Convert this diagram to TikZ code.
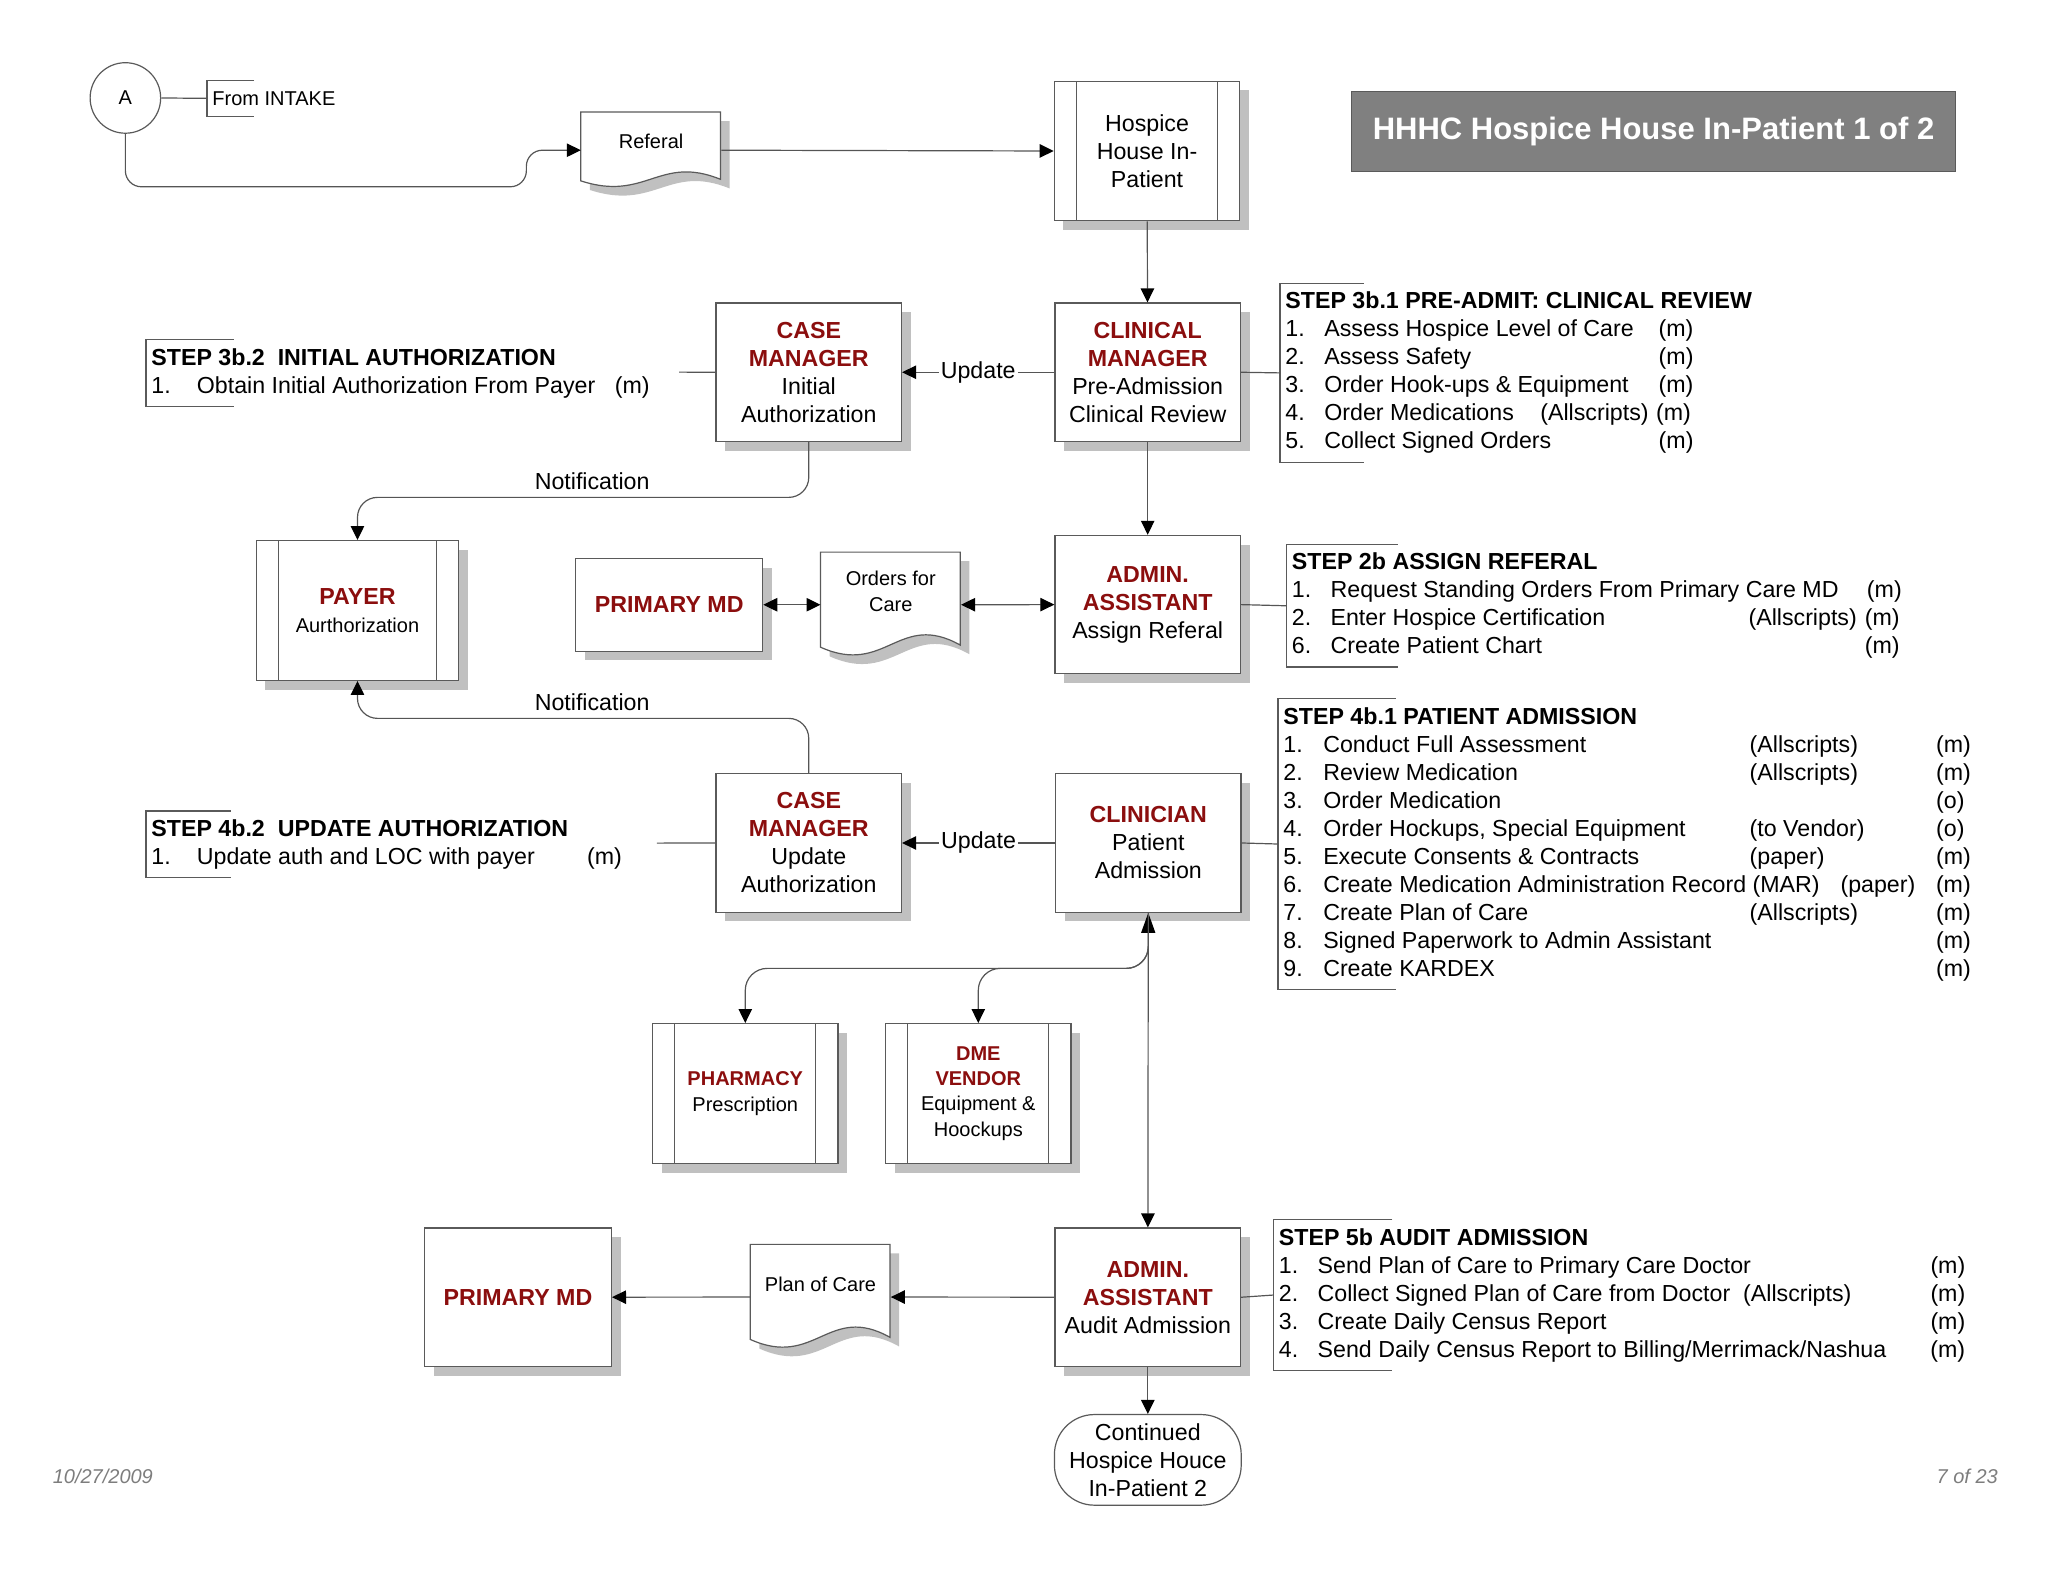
\documentclass[tikz,border=0pt]{standalone}
\usepackage{fontspec}
\setmainfont{Liberation Sans}
\usetikzlibrary{positioning,arrows.meta,shadows,backgrounds}
\definecolor{rolered}{RGB}{139,14,14}
\definecolor{shadowgray}{RGB}{192,192,192}
\definecolor{linegray}{RGB}{85,85,85}
\definecolor{boxgray}{RGB}{90,90,90}
\definecolor{titlegray}{RGB}{128,128,128}
\definecolor{footgray}{RGB}{125,125,125}
\newlength{\pxu}
\setlength{\pxu}{0.653pt}
\newcommand{\bodyfont}{\fontsize{11.6}{14}\selectfont}
\newcommand{\docfont}{\fontsize{10}{13}\selectfont}
\newcommand{\smallboxfont}{\fontsize{10}{12.6}\selectfont}
\newcommand{\titlefont}{\fontsize{15.5}{18}\selectfont\bfseries}
\newcommand{\rolename}[1]{\textbf{\textcolor{rolered}{#1}}}
\newcommand{\colcell}[2]{\makebox[#1\pxu][l]{#2}}
\newcommand{\notebracket}[2]{\draw[boxline] ([xshift=#2\pxu]#1.north west) -- (#1.north west) -- (#1.south west) -- ([xshift=#2\pxu]#1.south west);}
\newcommand{\docoutline}[2]{%
  \begin{scope}[on background layer, shift={(#1.north west)}]
    \fill[shadowgray] (7,7) -- (114,7) -- (114,{7+0.89*#2}) .. controls (67,{7+0.56*#2}) and (57,{7+1.19*#2}) .. (7,{7+0.91*#2}) -- cycle;
    \draw[boxline, fill=white] (0,0) -- (107,0) -- (107,{0.89*#2}) .. controls (60,{0.56*#2}) and (50,{1.19*#2}) .. (0,{0.91*#2}) -- cycle;
  \end{scope}}
\tikzset{
  boxline/.style={draw=boxgray, line width=0.6pt},
  link/.style={draw=linegray, line width=0.6pt},
  flow/.style={link, ->},
  twoway/.style={link, <->},
  procbox/.style={boxline, fill=white, minimum width=142\pxu, minimum height=106\pxu, align=center, inner sep=1pt,
    drop shadow={shadow xshift=7\pxu, shadow yshift=-7\pxu, fill=shadowgray, opacity=1}},
  subproc/.style={procbox, path picture={
    \draw[boxline] ([xshift=17\pxu]path picture bounding box.north west) -- ([xshift=17\pxu]path picture bounding box.south west)
      ([xshift=-17\pxu]path picture bounding box.north east) -- ([xshift=-17\pxu]path picture bounding box.south east);}},
  docbox/.style={minimum width=107\pxu, minimum height=80\pxu, inner sep=0pt, align=center, font=\docfont, text depth=13pt},
  termbox/.style={boxline, fill=white, rounded corners=20pt, minimum width=143\pxu, minimum height=69.4\pxu, align=center, inner sep=1pt},
  titlebox/.style={draw=boxgray, fill=titlegray, text=white, font=\titlefont, minimum width=462\pxu, minimum height=61\pxu},
  notebox/.style={anchor=west, align=left, inner xsep=2.5pt, inner ysep=4pt},
  flowlabel/.style={fill=white, inner sep=1pt},
  notelabel/.style={above, inner sep=3.6pt},
  footer/.style={font=\docfont\itshape, text=footgray}
}
\begin{document}
\begin{tikzpicture}[x=0.653pt, y=-0.653pt, >={Triangle[length=7pt,width=6.7pt,color=black]}, every node/.style={font=\bodyfont}]
  \useasboundingbox (0,0) rectangle (1568,1211);
  \node[circle, boxline, minimum size=54\pxu, inner sep=0pt, font=\docfont] (a) at (96,75) {A};
  \node[notebox, font=\docfont, inner ysep=5.2pt] (intake) at (158.5,75.3) {From INTAKE};
  \node[docbox, minimum height=58\pxu, text depth=9.2pt] (referal) at (498.5,115) {Referal};
  \node[subproc, minimum height=107\pxu] (hospice) at (878.2,115.6) {Hospice\\House In-\\Patient};
  \node[titlebox] (title) at (1266,100.6) {HHHC Hospice House In-Patient 1 of 2};
  \node[procbox] (clinmgr) at (878.7,285) {\rolename{CLINICAL}\\\rolename{MANAGER}\\Pre-Admission\\Clinical Review};
  \node[procbox] (casemgr) at (619.2,285) {\rolename{CASE}\\\rolename{MANAGER}\\Initial\\Authorization};
  \node[notebox] (initauth) at (111.8,285.6) {\textbf{STEP 3b.2\ \ INITIAL AUTHORIZATION}\\
    \colcell{34.8}{1.}\colcell{320}{Obtain Initial Authorization From Payer}(m)};
  \node[notebox] (clinreview) at (980,285.5) {\textbf{STEP 3b.1 PRE-ADMIT: CLINICAL REVIEW}\\
    \colcell{29.8}{1.}\colcell{256}{Assess Hospice Level of Care}(m)\\
    \colcell{29.8}{2.}\colcell{256}{Assess Safety}(m)\\
    \colcell{29.8}{3.}\colcell{256}{Order Hook-ups \& Equipment}(m)\\
    \colcell{29.8}{4.}\colcell{165.4}{Order Medications}\colcell{88.6}{(Allscripts)}(m)\\
    \colcell{29.8}{5.}\colcell{256}{Collect Signed Orders}(m)};
  \node[subproc, minimum width=155\pxu, minimum height=107\pxu] (payer) at (273.7,467.4) {\rolename{PAYER}\\{\docfont Aurthorization}};
  \node[procbox, minimum width=143\pxu, minimum height=71\pxu] (primarymd) at (512.4,463) {\rolename{PRIMARY MD}};
  \node[docbox] (orders) at (682,463) {Orders for\\Care};
  \node[procbox] (assign) at (878.7,462.9) {\rolename{ADMIN.}\\\rolename{ASSISTANT}\\Assign Referal};
  \node[notebox] (assignref) at (985,463.8) {\textbf{STEP 2b ASSIGN REFERAL}\\
    \colcell{29.6}{1.}\colcell{410.7}{Request Standing Orders From Primary Care MD}(m)\\
    \colcell{29.6}{2.}\colcell{320}{Enter Hospice Certification}\colcell{89}{(Allscripts)}(m)\\
    \colcell{29.6}{6.}\colcell{409}{Create Patient Chart}(m)};
  \node[procbox] (caseupd) at (619.2,645.4) {\rolename{CASE}\\\rolename{MANAGER}\\Update\\Authorization};
  \node[procbox] (clinician) at (879.2,645.4) {\rolename{CLINICIAN}\\Patient\\Admission};
  \node[notebox] (updauth) at (111.8,646.3) {\textbf{STEP 4b.2\ \ UPDATE AUTHORIZATION}\\
    \colcell{34.8}{1.}\colcell{298.8}{Update auth and LOC with payer}(m)};
  \node[notebox] (admission) at (978.5,646.2) {\textbf{STEP 4b.1 PATIENT ADMISSION}\\
    \colcell{30.5}{1.}\colcell{326.5}{Conduct Full Assessment}\colcell{142.7}{(Allscripts)}(m)\\
    \colcell{30.5}{2.}\colcell{326.5}{Review Medication}\colcell{142.7}{(Allscripts)}(m)\\
    \colcell{30.5}{3.}\colcell{469.2}{Order Medication}(o)\\
    \colcell{30.5}{4.}\colcell{326.5}{Order Hockups, Special Equipment}\colcell{142.7}{(to Vendor)}(o)\\
    \colcell{30.5}{5.}\colcell{326.5}{Execute Consents \& Contracts}\colcell{142.7}{(paper)}(m)\\
    \colcell{30.5}{6.}\colcell{396.1}{Create Medication Administration Record (MAR)}\colcell{73.1}{(paper)}(m)\\
    \colcell{30.5}{7.}\colcell{326.5}{Create Plan of Care}\colcell{142.7}{(Allscripts)}(m)\\
    \colcell{30.5}{8.}\colcell{469.2}{Signed Paperwork to Admin Assistant}(m)\\
    \colcell{30.5}{9.}\colcell{469.2}{Create KARDEX}(m)};
  \node[subproc, minimum height=107\pxu, font=\smallboxfont] (pharmacy) at (570.6,837.2) {\rolename{PHARMACY}\\Prescription};
  \node[subproc, minimum height=107\pxu, font=\smallboxfont] (dme) at (749,837.2) {\rolename{DME}\\\rolename{VENDOR}\\Equipment \&\\Hoockups};
  \node[procbox] (audit) at (878.8,993.2) {\rolename{ADMIN.}\\\rolename{ASSISTANT}\\Audit Admission};
  \node[docbox] (plancare) at (628.2,993) {Plan of Care};
  \node[procbox, minimum width=143\pxu] (primarymd2) at (396.6,993.2) {\rolename{PRIMARY MD}};
  \node[notebox] (auditnote) at (975,991.5) {\textbf{STEP 5b AUDIT ADMISSION}\\
    \colcell{29.7}{1.}\colcell{469.2}{Send Plan of Care to Primary Care Doctor}(m)\\
    \colcell{29.7}{2.}\colcell{469.2}{Collect Signed Plan of Care from Doctor\ \ (Allscripts)}(m)\\
    \colcell{29.7}{3.}\colcell{469.2}{Create Daily Census Report}(m)\\
    \colcell{29.7}{4.}\colcell{469.2}{Send Daily Census Report to Billing/Merrimack/Nashua}(m)};
  \node[termbox] (continued) at (878.8,1117.7) {Continued\\Hospice Houce\\In-Patient 2};
  \node[footer, anchor=west] (date) at (35,1130) {10/27/2009};
  \node[footer, anchor=east] (page) at (1535,1130) {7 of 23};
  \docoutline{referal}{58}
  \docoutline{orders}{80}
  \docoutline{plancare}{80}
  \notebracket{intake}{36}
  \notebracket{initauth}{67}
  \notebracket{clinreview}{64}
  \notebracket{assignref}{85}
  \notebracket{updauth}{65}
  \notebracket{admission}{90}
  \notebracket{auditnote}{91}
  \coordinate (jog) at (403,143);
  \coordinate (cmend) at (520,284.9);
  \coordinate (cuend) at (503,645.5);
  \coordinate (toauth) at (273.7,380.8);
  \coordinate (fromupd) at (273.7,550);
  \coordinate (tophar) at (570.6,741.4);
  \coordinate (todme) at (749,741.4);
  \draw[link] (a.east) -- (intake.west);
  \draw[flow, rounded corners=8pt] (a.south) |- (jog) |- (referal.west);
  \draw[flow] (referal.east) -- (hospice.west);
  \draw[flow] (hospice) -- (clinmgr);
  \draw[flow] (clinmgr) -- node[flowlabel] {Update} (casemgr);
  \draw[link] (casemgr.west) -- (cmend);
  \draw[link] (clinmgr.east) -- (clinreview.west);
  \draw[flow, rounded corners=10pt] (casemgr.south) |- node[notelabel, pos=0.74] {Notification} (toauth) -- (payer.north);
  \draw[flow] (clinmgr) -- (assign);
  \draw[twoway] (primarymd.east) -- (orders.west);
  \draw[twoway] (orders.east) -- (assign.west);
  \draw[link] (assign.east) -- (assignref.west);
  \draw[flow, rounded corners=10pt] (caseupd.north) |- node[notelabel, pos=0.74] {Notification} (fromupd) -- (payer.south);
  \draw[flow] (clinician) -- node[flowlabel] {Update} (caseupd);
  \draw[link] (caseupd.west) -- (cuend);
  \draw[link] (clinician.east) -- (admission.west);
  \draw[link, {Triangle[length=10pt,width=7pt,color=black]}->] (clinician) -- (audit);
  \draw[flow, rounded corners=11pt] (clinician.south) |- (tophar) -- (pharmacy.north);
  \draw[flow, rounded corners=11pt] (clinician.south) |- (todme) -- (dme.north);
  \draw[flow] (audit) -- (plancare);
  \draw[flow] (plancare) -- (primarymd2);
  \draw[link] (audit.east) -- (auditnote.west);
  \draw[flow] (audit) -- (continued);
\end{tikzpicture}
\end{document}
